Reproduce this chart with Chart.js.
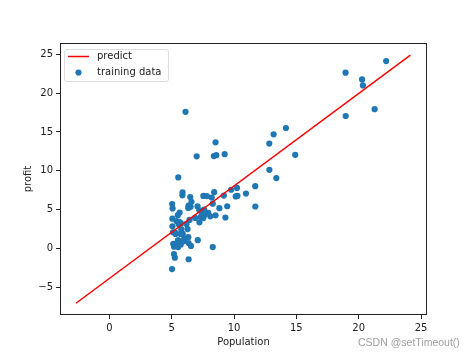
<!DOCTYPE html>
<html>
<head>
<meta charset="utf-8">
<script src="https://cdn.jsdelivr.net/npm/chart.js@4/dist/chart.umd.min.js"></script>
<style>
html,body{margin:0;padding:0;background:#fff;}
#wrap{position:relative;width:474px;height:355px;}
</style>
</head>
<body>
<div id="wrap"><canvas id="c" width="474" height="355"></canvas></div>
<script>
// Training data (Population in 10,000s, profit in $10,000s)
const population = [6.1101,5.5277,8.5186,7.0032,5.8598,8.3829,7.4764,8.5781,6.4862,5.0546,
5.7107,14.164,5.734,8.4084,5.6407,5.3794,6.3654,5.1301,6.4296,7.0708,
6.1891,20.27,5.4901,6.3261,5.5649,18.945,12.828,10.957,13.176,22.203,
5.2524,6.5894,9.2482,5.8918,8.2111,7.9334,8.0959,5.6063,12.836,6.3534,
5.4069,6.8825,11.708,5.7737,7.8247,7.0931,5.0702,5.8014,11.7,5.5416,
7.5402,5.3077,7.4239,7.6031,6.3328,6.3589,6.2742,5.6397,9.3102,9.4536,
8.8254,5.1793,21.279,14.908,18.959,7.2182,8.2951,10.236,5.4994,20.341,
10.136,7.3345,6.0062,7.2259,5.0269,6.5479,7.5386,5.0365,10.274,5.1077,
5.7292,5.1884,6.3557,9.7687,6.5159,8.5172,9.1802,6.002,5.5204,5.0594,
5.7077,7.6366,5.8707,5.3054,8.2934,13.394,5.4369];
const profit = [17.592,9.1302,13.662,11.854,6.8233,11.886,4.3483,12,6.5987,3.8166,
3.2522,15.505,3.1551,7.2258,0.71618,3.5129,5.3048,0.56077,3.6518,5.3893,
3.1386,21.767,4.263,5.1875,3.0825,22.638,13.501,7.0467,14.692,24.147,
-1.22,5.9966,12.134,1.8495,6.5426,4.5623,4.1164,3.3928,10.117,5.4974,
0.55657,3.9115,5.3854,2.4406,6.7318,1.0463,5.1337,1.844,8.0043,1.0179,
6.7504,1.8396,4.2885,4.9981,1.4233,-1.4211,2.4756,4.6042,3.9624,5.4141,
5.1694,-0.74279,17.929,12.054,17.054,4.8852,5.7442,7.7754,1.0173,20.992,
6.6799,4.0259,1.2784,3.3411,-2.6807,0.29678,3.8845,5.7014,6.7526,2.0576,
0.47953,0.20421,0.67861,7.5435,5.3436,4.2415,6.7981,0.92695,0.152,2.8214,
1.8451,4.2959,7.2029,1.9869,0.14454,9.0551,0.61705];
// Fitted line endpoints
const lineX = [-2.6807, 24.147];
const lineY = [-7.094, 24.911];
// Tick labels
const xTicks = [0, 5, 10, 15, 20, 25];
const yTicks = [-5, 0, 5, 10, 15, 20, 25];
const seriesNames = ['predict', 'training data'];
const xTitle = 'Population';
const yTitle = 'profit';
const watermark = 'CSDN @setTimeout()';

const FONT = 'DejaVu Sans';
const fmt = v => (v < 0 ? '\u2212' + Math.abs(v) : String(v));

const framePlugin = {
  id: 'frame',
  afterDraw(chart) {
    const {ctx, chartArea: a} = chart;
    ctx.save();
    // axes frame
    ctx.strokeStyle = '#222';
    ctx.lineWidth = 1;
    ctx.strokeRect(Math.round(a.left) + 0.5, Math.round(a.top) + 0.5,
      Math.round(a.right - a.left) - 1, Math.round(a.bottom - a.top) - 1);
    // legend
    const lx = 64.5, ly = 49.5, lw = 104, lh = 32, r = 2.5;
    ctx.beginPath();
    ctx.moveTo(lx + r, ly);
    ctx.arcTo(lx + lw, ly, lx + lw, ly + lh, r);
    ctx.arcTo(lx + lw, ly + lh, lx, ly + lh, r);
    ctx.arcTo(lx, ly + lh, lx, ly, r);
    ctx.arcTo(lx, ly, lx + lw, ly, r);
    ctx.closePath();
    ctx.fillStyle = 'rgba(255,255,255,0.8)';
    ctx.fill();
    ctx.strokeStyle = '#d6d6d6';
    ctx.lineWidth = 0.8;
    ctx.stroke();
    const ds = chart.data.datasets;
    ctx.strokeStyle = ds[0].borderColor;
    ctx.lineWidth = 1.5;
    ctx.beginPath();
    ctx.moveTo(68, 56.5);
    ctx.lineTo(89, 56.5);
    ctx.stroke();
    ctx.fillStyle = ds[1].backgroundColor;
    ctx.beginPath();
    ctx.arc(78.5, 72.5, 3.1, 0, Math.PI * 2);
    ctx.fill();
    ctx.fillStyle = '#222';
    ctx.font = '10px "' + FONT + '"';
    ctx.textBaseline = 'middle';
    ctx.textAlign = 'left';
    ctx.fillText(ds[0].label, 97, 56.5);
    ctx.fillText(ds[1].label, 97, 72.5);
    // watermark
    ctx.fillStyle = '#a0a0a0';
    ctx.font = '10.5px "Liberation Sans"';
    ctx.textAlign = 'left';
    ctx.fillText(watermark, 358, 343);
    ctx.restore();
  }
};

new Chart(document.getElementById('c'), {
  type: 'scatter',
  data: {
    datasets: [
      {
        label: seriesNames[0],
        data: lineX.map((x, i) => ({x, y: lineY[i]})),
        showLine: true,
        borderColor: '#ff0000',
        backgroundColor: '#ff0000',
        borderWidth: 1.5,
        pointRadius: 0,
        order: 0
      },
      {
        label: seriesNames[1],
        data: population.map((x, i) => ({x, y: profit[i]})),
        backgroundColor: '#1f77b4',
        borderColor: '#1f77b4',
        borderWidth: 0,
        pointRadius: 3.1,
        order: 1
      }
    ]
  },
  options: {
    responsive: false,
    animation: false,
    devicePixelRatio: 1,
    layout: {padding: {top: 43, right: 47, left: 0, bottom: 0}},
    plugins: {legend: {display: false}, tooltip: {enabled: false}},
    scales: {
      x: {
        type: 'linear',
        min: -3.96, max: 25.48,
        afterFit(s) { s.height = 40; },
        afterBuildTicks(s) { s.ticks = xTicks.map(v => ({value: v})); },
        border: {display: false},
        grid: {drawOnChartArea: false, drawTicks: true, tickLength: 4, color: '#222', tickWidth: 1},
        ticks: {padding: 3, color: '#222', font: {family: FONT, size: 10}, callback: v => fmt(v), maxRotation: 0},
        title: {display: true, text: xTitle, color: '#222', font: {family: FONT, size: 10}, padding: {top: 0, bottom: 7}}
      },
      y: {
        type: 'linear',
        min: -8.61, max: 26.47,
        afterFit(s) { s.width = 60; },
        afterBuildTicks(s) { s.ticks = yTicks.map(v => ({value: v})); },
        border: {display: false},
        grid: {drawOnChartArea: false, drawTicks: true, tickLength: 4, color: '#222', tickWidth: 1},
        ticks: {padding: 3, color: '#222', font: {family: FONT, size: 10}, callback: v => fmt(v)},
        title: {display: true, text: yTitle, color: '#222', font: {family: FONT, size: 10}, padding: {top: 22, bottom: 0}}
      }
    }
  },
  plugins: [framePlugin]
});
</script>
</body>
</html>
